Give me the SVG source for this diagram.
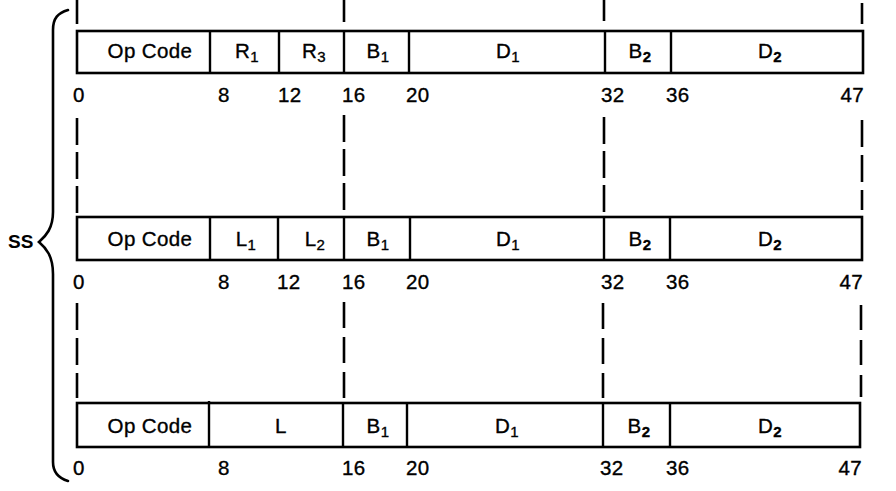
<svg xmlns="http://www.w3.org/2000/svg" width="896" height="491" viewBox="0 0 896 491">
<style>
.box{fill:#fff;stroke:#000;stroke-width:2.6}
.div{stroke:#000;stroke-width:2.4}
.dash{stroke:#000;stroke-width:2.6;fill:none}
.lbl{font-family:"Liberation Sans",Arial,sans-serif;font-size:20.5px;fill:#000;stroke:#000;stroke-width:0.35;text-anchor:middle;letter-spacing:0.4px}
.num{font-family:"Liberation Sans",Arial,sans-serif;font-size:20.5px;fill:#000;stroke:#000;stroke-width:0.35;letter-spacing:0.3px}
.sub{font-size:15px}
.sb{font-size:15px;font-weight:bold}
.brace{fill:none;stroke:#000;stroke-width:2.6;stroke-linecap:round}
.ss{font-family:"Liberation Sans",Arial,sans-serif;font-size:19px;font-weight:bold;fill:#000}
</style>
<rect width="896" height="491" fill="#fff"/>
<g id="connectors">
  <line class="dash" x1="77" y1="0" x2="77" y2="24"/>
  <line class="dash" x1="344" y1="0" x2="344" y2="22"/>
  <line class="dash" x1="604" y1="0" x2="604" y2="21"/>
  <line class="dash" x1="862" y1="3" x2="862" y2="24"/>
  <line class="dash" x1="77" y1="118" x2="77" y2="217" stroke-dasharray="27 7"/>
  <line class="dash" x1="344" y1="115" x2="344" y2="210" stroke-dasharray="27 7"/>
  <line class="dash" x1="604" y1="117" x2="604" y2="212" stroke-dasharray="27 7"/>
  <line class="dash" x1="862" y1="120" x2="862" y2="210" stroke-dasharray="27 8"/>
  <line class="dash" x1="77" y1="303" x2="77" y2="398" stroke-dasharray="27 8"/>
  <line class="dash" x1="344" y1="302" x2="344" y2="398" stroke-dasharray="26 9"/>
  <line class="dash" x1="603" y1="303" x2="603" y2="398" stroke-dasharray="26 9"/>
  <line class="dash" x1="861" y1="305" x2="861" y2="397" stroke-dasharray="25 10"/>
</g>
<g id="brace">
  <path class="brace" d="M68,10 C58,13 53,18 53,30 L53,212 C53,228 46,236 39,242 C46,248 53,256 53,274 L53,462 C53,472 58,478 68,481"/>
  <text class="ss" x="8" y="248">SS</text>
</g>
<g id="row1">
  <rect class="box" x="77" y="31" width="786" height="42"/>
  <line class="div" x1="210" y1="31" x2="210" y2="73"/>
  <line class="div" x1="279" y1="31" x2="279" y2="73"/>
  <line class="div" x1="344" y1="31" x2="344" y2="73"/>
  <line class="div" x1="409" y1="31" x2="409" y2="73"/>
  <line class="div" x1="605" y1="31" x2="605" y2="73"/>
  <line class="div" x1="671" y1="31" x2="671" y2="73"/>
  <text class="lbl" x="150" y="58">Op Code</text>
  <text class="lbl" x="247" y="58">R<tspan class="sub" dy="4">1</tspan></text>
  <text class="lbl" x="314" y="58">R<tspan class="sub" dy="4">3</tspan></text>
  <text class="lbl" x="378" y="58">B<tspan class="sub" dy="4">1</tspan></text>
  <text class="lbl" x="508" y="58">D<tspan class="sub" dy="4">1</tspan></text>
  <text class="lbl" x="640" y="58">B<tspan class="sb" dy="4">2</tspan></text>
  <text class="lbl" x="770" y="58">D<tspan class="sb" dy="4">2</tspan></text>
  <text class="num" x="73" y="102">0</text>
  <text class="num" x="218" y="102">8</text>
  <text class="num" x="278" y="102">12</text>
  <text class="num" x="342" y="102">16</text>
  <text class="num" x="406" y="102">20</text>
  <text class="num" x="601" y="102">32</text>
  <text class="num" x="666" y="102">36</text>
  <text class="num" x="864" y="102" text-anchor="end">47</text>
</g>
<g id="row2">
  <rect class="box" x="77" y="217" width="785" height="43"/>
  <line class="div" x1="210" y1="217" x2="210" y2="260"/>
  <line class="div" x1="278" y1="217" x2="278" y2="260"/>
  <line class="div" x1="344" y1="217" x2="344" y2="260"/>
  <line class="div" x1="410" y1="217" x2="410" y2="260"/>
  <line class="div" x1="604" y1="217" x2="604" y2="260"/>
  <line class="div" x1="670" y1="217" x2="670" y2="260"/>
  <text class="lbl" x="150" y="246">Op Code</text>
  <text class="lbl" x="246" y="246">L<tspan class="sub" dy="4">1</tspan></text>
  <text class="lbl" x="315" y="246">L<tspan class="sub" dy="4">2</tspan></text>
  <text class="lbl" x="378" y="246">B<tspan class="sub" dy="4">1</tspan></text>
  <text class="lbl" x="508" y="246">D<tspan class="sub" dy="4">1</tspan></text>
  <text class="lbl" x="640" y="246">B<tspan class="sb" dy="4">2</tspan></text>
  <text class="lbl" x="770" y="246">D<tspan class="sb" dy="4">2</tspan></text>
  <text class="num" x="73" y="289">0</text>
  <text class="num" x="218" y="289">8</text>
  <text class="num" x="277" y="289">12</text>
  <text class="num" x="342" y="289">16</text>
  <text class="num" x="406" y="289">20</text>
  <text class="num" x="601" y="289">32</text>
  <text class="num" x="666" y="289">36</text>
  <text class="num" x="863" y="289" text-anchor="end">47</text>
</g>
<g id="row3">
  <rect class="box" x="77" y="403" width="783" height="44"/>
  <line class="div" x1="209" y1="401" x2="209" y2="447"/>
  <line class="div" x1="343" y1="403" x2="343" y2="447"/>
  <line class="div" x1="407" y1="403" x2="407" y2="447"/>
  <line class="div" x1="603" y1="403" x2="603" y2="447"/>
  <line class="div" x1="670" y1="403" x2="670" y2="447"/>
  <text class="lbl" x="150" y="433">Op Code</text>
  <text class="lbl" x="281" y="433">L</text>
  <text class="lbl" x="378" y="433">B<tspan class="sub" dy="4">1</tspan></text>
  <text class="lbl" x="507" y="433">D<tspan class="sub" dy="4">1</tspan></text>
  <text class="lbl" x="639" y="433">B<tspan class="sb" dy="4">2</tspan></text>
  <text class="lbl" x="770" y="433">D<tspan class="sb" dy="4">2</tspan></text>
  <text class="num" x="73" y="475">0</text>
  <text class="num" x="218" y="475">8</text>
  <text class="num" x="342" y="475">16</text>
  <text class="num" x="406" y="475">20</text>
  <text class="num" x="600" y="475">32</text>
  <text class="num" x="666" y="475">36</text>
  <text class="num" x="862" y="475" text-anchor="end">47</text>
</g>
</svg>
